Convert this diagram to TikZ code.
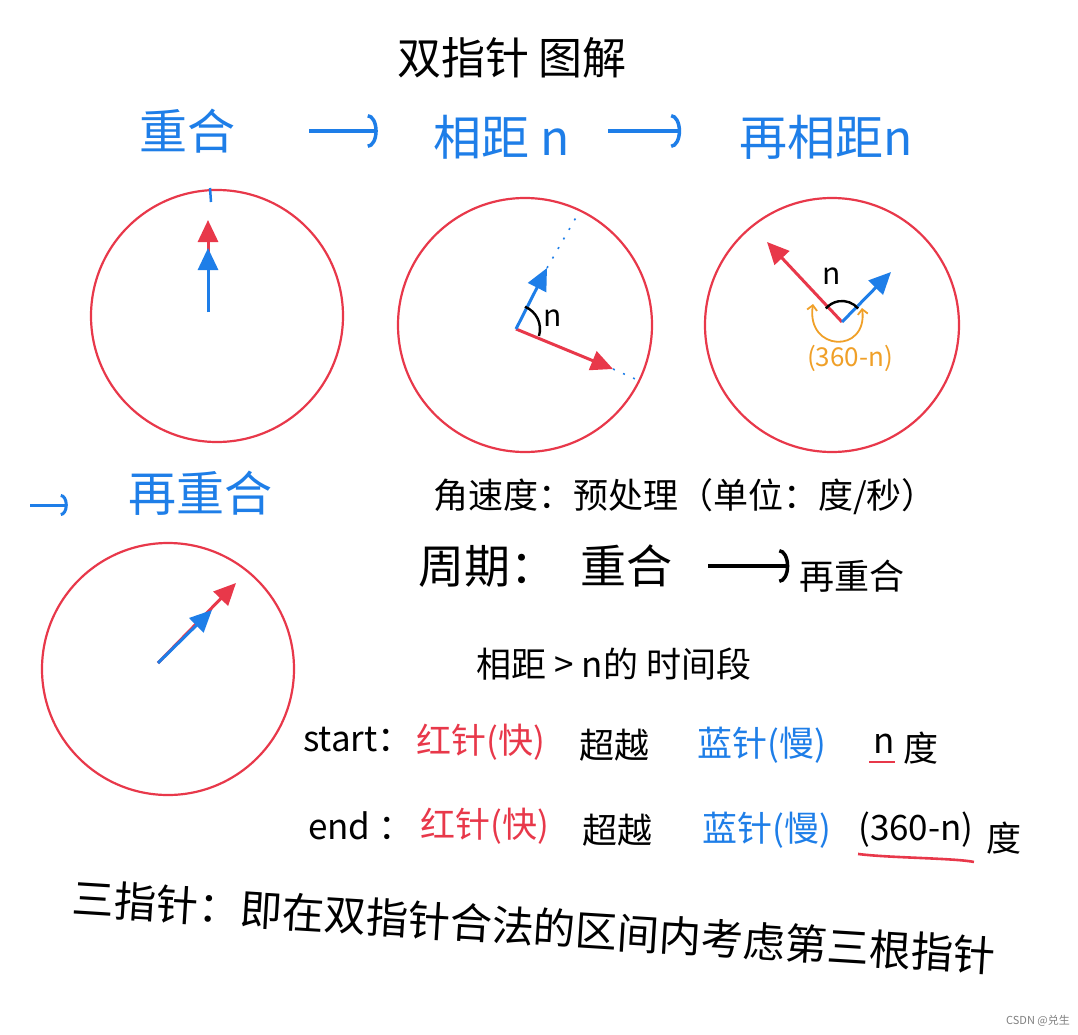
\documentclass[tikz,border=0pt]{standalone}
\usepackage{fontspec}
\newfontfamily\cjk{Noto Sans CJK SC}
\usetikzlibrary{arrows.meta}
\definecolor{hred}{RGB}{232,56,74}
\definecolor{hblue}{RGB}{30,126,232}
\definecolor{horange}{RGB}{240,160,40}

\begin{document}
\begin{tikzpicture}[x=1pt,y=-1pt,
  every node/.style={inner sep=0pt},
  dial/.style={draw=hred, line width=2.2pt},
  redhand/.style={hred, line width=3pt, -{Triangle[length=22pt,width=20pt]}},
  bluehand/.style={hblue, line width=3pt, -{Triangle[length=22pt,width=20pt]}},
  guide/.style={hblue, line width=1.6pt, dash pattern=on 2pt off 9pt},
  angmark/.style={black, line width=2.4pt},
  turnback/.style={horange, line width=1.8pt, {Straight Barb[length=5pt,width=10pt]}-{Straight Barb[length=5pt,width=10pt]}},
  flow/.style={line width=3.5pt, -{Arc Barb[length=10pt,width=34pt]}},
  titletext/.style={font=\cjk\fontsize{44}{50}\selectfont},
  headtext/.style={text=hblue, font=\cjk\fontsize{48}{54}\selectfont},
  handtext/.style={font=\cjk\fontsize{30}{34}\selectfont},
  notetext/.style={font=\cjk\fontsize{35}{40}\selectfont},
  periodtext/.style={font=\cjk\fontsize{46}{52}\selectfont},
  linetext/.style={font=\cjk\fontsize{35}{40}\selectfont},
  bottomtext/.style={font=\cjk\fontsize{42}{48}\selectfont}]
\fill[white] (0,0) rectangle (1078,1035);

\node[titletext] (title) at (512,58) {双指针 图解};

\node[headtext] (chonghe) at (187,131) {重合};
\node[headtext] (xiangju) at (502,137) {相距 n};
\node[headtext] (zaixiangju) at (826,137) {再相距n};
\draw[flow, hblue, shorten <=74pt, shorten >=56pt] (chonghe.east) -- (chonghe.east -| xiangju.west);
\draw[flow, hblue, shorten <=38pt, shorten >=58pt] (xiangju.east |- chonghe.east) -- (chonghe.east -| zaixiangju.west);

% dial 1
\draw[dial] (217,316) circle[radius=126];
\coordinate (c1) at (208,312);
\coordinate (c1r) at (208,220);
\coordinate (c1b) at (208,248);
\draw[redhand] (c1) -- (c1r);
\draw[bluehand] (c1) -- (c1b);
\draw[hblue, line width=2.5pt] (210,188) -- (211,202);

% dial 2
\draw[dial] (525,325) circle[radius=127];
\coordinate (c2) at (516,329);
\coordinate (c2b) at (547,268);
\coordinate (c2r) at (613,369);
\coordinate (c2bx) at (578,214);
\coordinate (c2rx) at (642,382);
\draw[guide] (c2b) -- (c2bx);
\draw[guide] (c2r) -- (c2rx);
\draw[redhand] (c2) -- (c2r);
\draw[bluehand] (c2) -- (c2b);
\draw[angmark] (c2) ++(-68:24) arc[start angle=-68, end angle=17, radius=24];
\node[handtext] (n2) at (553,318) {n};

% dial 3
\draw[dial] (832,325) circle[radius=127];
\coordinate (c3) at (842,322);
\coordinate (c3r) at (767,242);
\coordinate (c3b) at (891,272);
\draw[redhand] (c3) -- (c3r);
\draw[bluehand] (c3) -- (c3b);
\draw[angmark] (c3) ++(-40:21) arc[start angle=-40, end angle=-140, radius=21];
\node[handtext] (n3) at (832,276) {n};
\coordinate (u1) at (813,304);
\coordinate (u2) at (862,308);
\draw[turnback] (u1) .. controls (806,352) and (868,354) .. (u2);
\node[text=horange, font=\cjk\fontsize{26}{30}\selectfont] (rest3) at (850,358) {(360-n)};

% dial 4
\node[headtext] (zaichonghe) at (200,493) {再重合};
\coordinate (from4) at (30,505);
\draw[flow, hblue, line width=3pt, -{Arc Barb[length=7pt,width=22pt]}] (from4) -- (from4 -| zaichonghe.west) [shorten >=60pt];
\draw[dial] (168,669) circle[radius=126];
\coordinate (c4) at (158,663);
\coordinate (c4r) at (236,583);
\coordinate (c4b) at (212,610);
\draw[redhand] (c4) -- (c4r);
\draw[bluehand] (c4) -- (c4b);

% notes
\node[notetext, anchor=west] (speed) at (433,497) {角速度：预处理（单位：度/秒）};
\node[periodtext, anchor=west] (zhouqi) at (418,566) {周期：};
\node[periodtext] (pstart) at (626,566) {重合};
\node[linetext] (pend) at (852,576) {再重合};
\draw[flow, black, shorten <=36pt, shorten >=10pt] (pstart.east) -- (pstart.east -| pend.west);
\node[linetext] (gap) at (614,664) {相距 > n的 时间段};

\node[linetext, anchor=west] (startkey) at (303,740) {start：};
\node[linetext, text=hred] (fastA) at (481,742) {红针(快)};
\node[linetext] (passA) at (614,745) {超越};
\node[linetext, text=hblue] (slowA) at (762,745) {蓝针(慢)};
\node[linetext] (nA) at (884,744) {n};
\node[linetext] (duA) at (921,748) {度};
\draw[hred, line width=2.6pt] ([shift={(-4pt,-8pt)}]nA.south west) -- ([shift={(0pt,-8pt)}]nA.south east);

\node[linetext, anchor=west] (endkey) at (308,826) {end ：};
\node[linetext, text=hred] (fastB) at (485,826) {红针(快)};
\node[linetext] (passB) at (617,830) {超越};
\node[linetext, text=hblue] (slowB) at (767,830) {蓝针(慢)};
\node[linetext] (nB) at (916,830) {(360-n)};
\node[linetext] (duB) at (1004,838) {度};
\draw[hred, line width=2.6pt] ([shift={(0pt,-6pt)}]nB.south west) .. controls ([shift={(30pt,-10pt)}]nB.south west) and ([shift={(-20pt,-10pt)}]nB.south east) .. ([shift={(0pt,-14pt)}]nB.south east);

\node[bottomtext, rotate=-3.6] (three) at (534,927) {三指针：即在双指针合法的区间内考虑第三根指针};

\node[text=gray, font=\cjk\fontsize{11}{13}\selectfont, anchor=east] (mark) at (1070,1021) {CSDN @兑生};
\end{tikzpicture}
\end{document}
